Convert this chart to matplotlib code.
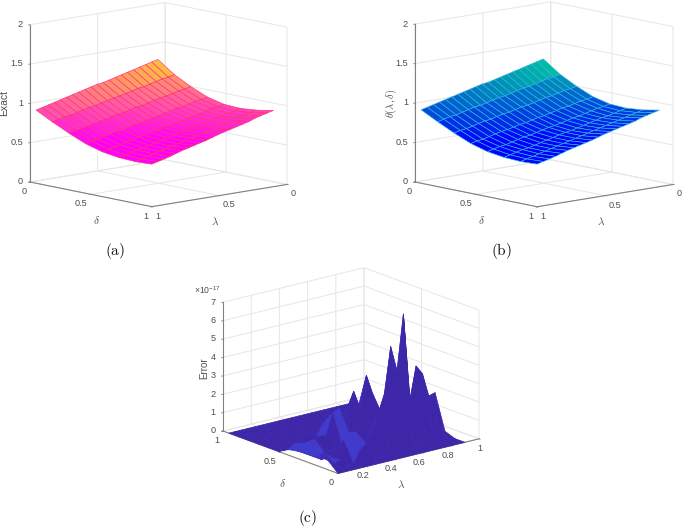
import numpy as np
import matplotlib
matplotlib.use('Agg')
import matplotlib.pyplot as plt
from matplotlib.colors import LinearSegmentedColormap
from mpl_toolkits.mplot3d import proj3d

plt.rcParams['font.family'] = ['Liberation Sans', 'DejaVu Sans']
plt.rcParams['mathtext.fontset'] = 'cm'
plt.rcParams['grid.color'] = '#e6e6e6'
plt.rcParams['grid.linewidth'] = 0.7

W, H = 685, 527

# ---- data for panels (a), (b): rows = delta, columns = lambda
lambda_ab = [0.100, 0.145, 0.190, 0.235, 0.280, 0.325, 0.370, 0.415, 0.460, 0.505, 0.550,
             0.595, 0.640, 0.685, 0.730, 0.775, 0.820, 0.865, 0.910, 0.955, 1.000]
delta_ab = [0.050, 0.186, 0.321, 0.457, 0.593, 0.729, 0.864, 1.000]
exact_values = [
    [1.32, 1.30, 1.28, 1.26, 1.24, 1.22, 1.20, 1.18, 1.16, 1.14, 1.13, 1.11, 1.09, 1.07, 1.05, 1.03, 1.01, .99, .97, .95, .93],
    [1.17, 1.15, 1.14, 1.12, 1.10, 1.08, 1.07, 1.05, 1.03, 1.01, 1.00, .98, .96, .94, .93, .91, .89, .87, .86, .84, .82],
    [1.06, 1.04, 1.03, 1.01, .99, .98, .96, .94, .92, .91, .89, .87, .86, .84, .82, .81, .79, .77, .75, .74, .72],
    [.97, .95, .94, .92, .90, .89, .87, .85, .83, .82, .80, .78, .77, .75, .73, .72, .70, .68, .66, .65, .63],
    [.92, .90, .89, .87, .85, .83, .82, .80, .78, .76, .75, .73, .71, .69, .68, .66, .64, .62, .61, .59, .57],
    [.91, .89, .87, .85, .84, .82, .80, .78, .76, .74, .73, .71, .69, .67, .65, .63, .61, .60, .58, .56, .54],
    [.93, .91, .89, .87, .85, .83, .81, .79, .77, .75, .73, .71, .69, .67, .65, .63, .61, .59, .57, .55, .53],
    [.97, .95, .93, .91, .88, .86, .84, .82, .80, .78, .755, .73, .71, .69, .67, .65, .625, .60, .58, .56, .54],
]
color_low, color_high = 0.70, 1.54

# ---- data for panel (c): nonzero error samples (x 1e-17)
lambda_c = [0.000, 0.045, 0.090, 0.135, 0.180, 0.225, 0.270, 0.315, 0.360, 0.405, 0.450,
            0.495, 0.540, 0.585, 0.630, 0.675, 0.720, 0.765, 0.810, 0.855, 0.900]
delta_c = [0.000, 0.086, 0.173, 0.259, 0.345, 0.432, 0.518, 0.605, 0.691, 0.777, 0.864, 0.950]
err_delta_idx = [3, 3, 3, 3, 3, 3, 3, 3, 3, 3, 3, 3,
                 8, 8, 8, 8, 8, 8, 8,
                 2, 2, 2, 2, 2, 2,
                 5, 5, 4, 4,
                 6, 6, 5, 6,
                 2, 2, 1, 1, 2,
                 3, 4, 2,
                 1, 2, 3, 4, 5,
                 5,
                 1, 1, 2]
err_lambda_idx = [9, 10, 11, 12, 13, 14, 15, 16, 17, 18, 19, 20,
                  13, 14, 15, 16, 17, 18, 19,
                  12, 13, 14, 18, 19, 20,
                  7, 8, 8, 6,
                  7, 8, 6, 6,
                  5, 6, 6, 5, 4,
                  1, 1, 1,
                  0, 0, 0, 0, 0,
                  1,
                  1, 2, 2]
err_values = [0.1, 0.6, 1.7, 2.7, 5.2, 3.8, 6.8, 2.0, 3.8, 3.3, 2.0, 2.1,
              0.1, 0.2, 1.6, 0.6, 2.3, 1.2, 0.35,
              1.05, 0.75, 0.45, 0.4, 0.6, 0.2,
              1.67, 1.86, 0.7, 0.1,
              0.9, 0.8, 0.56, 0.3,
              1.4, 1.3, 0.9, 0.6, 1.05,
              1.17, 0.75, 0.65,
              0.5, 0.55, 0.45, 0.4, 0.3,
              0.56,
              0.25, 0.35, 0.3]
lit_delta_idx = [4, 5, 1, 1, 2, 3, 4, 1]
lit_lambda_idx = [7, 6, 5, 4, 0, 0, 0, 1]
lit_level = 1.3
dark_delta_idx = [2, 2, 2, 2, 2, 2]
dark_lambda_idx = [12, 13, 14, 18, 19, 20]

# ---- colour scale of panel (c), low end of the parula map
err_cmap = LinearSegmentedColormap.from_list(
    'low_parula', [(0.0, '#3e26a8'), (0.1, '#4347e0'), (0.2, '#3e7cfc'), (0.35, '#22b5d8'), (1.0, '#fdf524')])
err_scale = 20.0


def style(ax, xt, yt, zt, xtl, ytl, ztl, xha, yha, fs=6.6):
    ax.set_xticks(xt)
    ax.set_xticklabels(xtl, ha=xha)
    ax.set_yticks(yt)
    ax.set_yticklabels(ytl, ha=yha)
    ax.set_zticks(zt)
    ax.set_zticklabels(ztl, ha='right', va='center')
    for a in (ax.xaxis, ax.yaxis, ax.zaxis):
        a.set_pane_color((1, 1, 1, 0))
        a.pane.set_edgecolor('#e6e6e6')
        a.line.set_color('#808080')
        a.line.set_linewidth(0.8)
        a._axinfo['tick'].update(inward_factor=0.12, outward_factor=0.0, linewidth={True: 0.6, False: 0.5})
        a.set_tick_params(labelsize=fs, colors='#4d4d4d', color='#808080', pad=-5)
    ax.patch.set_alpha(0)


def fit(ax, p_left, p_right, px_left, px_right):
    """Scale and shift the axes box so two corners land on the wanted pixels."""
    def pix(p):
        x, y, _ = proj3d.proj_transform(p[0], p[1], p[2], ax.get_proj())
        return ax.transData.transform((x, y))
    s = 0.5
    ax.set_position([0.1, 0.1, s * H / W, s])
    span = pix(p_right)[0] - pix(p_left)[0]
    s *= (px_right[0] - px_left[0]) / span
    ax.set_position([0.1, 0.1, s * H / W, s])
    here = pix(p_left)
    dx = (px_left[0] - here[0]) / W
    dy = ((H - px_left[1]) - here[1]) / H
    ax.set_position([0.1 + dx, 0.1 + dy, s * H / W, s])


def label(x, y, s, size, rot=0, color='#4d4d4d'):
    fig.text(x / W, 1 - y / H, s, fontsize=size, rotation=rot, ha='center', va='center', color=color)


fig = plt.figure(figsize=(W / 100, H / 100), dpi=100)
fig.patch.set_facecolor('white')

L_ab, D_ab = np.meshgrid(lambda_ab, delta_ab)
Z_ab = np.array(exact_values, dtype=float)
T_ab = np.clip((Z_ab - color_low) / (color_high - color_low), 0, 1)


def panel_ab(cmap, edge, left_px, right_px):
    ax = fig.add_subplot(projection='3d', proj_type='ortho')
    ax.view_init(elev=10.5, azim=48)
    ax.set_box_aspect((1, 1, 160 / 182))
    ax.set_xlim(0, 1, view_margin=0)
    ax.set_ylim(0, 1, view_margin=0)
    ax.set_zlim(0, 2, view_margin=0)
    ax.plot_surface(L_ab, D_ab, Z_ab, facecolors=plt.get_cmap(cmap)(T_ab), rstride=1, cstride=1,
                    shade=False, edgecolor=edge, linewidth=0.45, antialiased=True)
    style(ax, [0, 0.5, 1], [0, 0.5, 1], [0, 0.5, 1, 1.5, 2],
          ['0', '0.5', '1'], ['0', '0.5', '1'], ['0', '0.5', '1', '1.5', '2'], 'left', 'right')
    fit(ax, (1, 0, 0), (0, 1, 0), left_px, right_px)
    return ax


panel_ab('spring', '#ff3070', (30, 182), (287, 183))
label(97, 220, r'$\delta$', 8)
label(215, 221, r'$\lambda$', 8)
label(4, 103, 'Exact', 7.5, 90)
label(115, 251, r'$\mathrm{(a)}$', 11, color='#111111')

panel_ab('winter', '#2fb4e6', (415, 182), (673, 183))
label(482, 220, r'$\delta$', 8)
label(601, 221, r'$\lambda$', 8)
label(391, 103, r'$\theta(\lambda,\delta)$', 7.5, 90)
label(501, 251, r'$\mathrm{(b)}$', 11, color='#111111')

# panel (c)
L_c, D_c = np.meshgrid(lambda_c, delta_c)
Z_c = np.zeros_like(L_c)
C_c = np.zeros_like(L_c)
for k, i, v in zip(err_delta_idx, err_lambda_idx, err_values):
    Z_c[k, i] = v
    C_c[k, i] = v
for k, i in zip(lit_delta_idx, lit_lambda_idx):
    C_c[k, i] = lit_level
for k, i in zip(dark_delta_idx, dark_lambda_idx):
    C_c[k, i] = 0.0

ax = fig.add_subplot(projection='3d', proj_type='ortho')
ax.view_init(elev=17.5, azim=230.8)
ax.set_box_aspect((1, 1, 135 / 182))
ax.set_xlim(0, 1, view_margin=0)
ax.set_ylim(0, 1, view_margin=0)
ax.set_zlim(0, 7, view_margin=0)
face_c = err_cmap(C_c / err_scale)
ax.plot_surface(L_c, D_c, Z_c, facecolors=face_c, rstride=1, cstride=1,
                shade=False, edgecolor=face_c[:-1, :-1].reshape(-1, 4), linewidth=0.5, antialiased=True)
style(ax, [0.2, 0.4, 0.6, 0.8, 1], [0, 0.5, 1], list(range(8)),
      ['0.2', '0.4', '0.6', '0.8', '1'], ['0', '0.5', '1'], [str(v) for v in range(8)], 'right', 'right')
fit(ax, (0, 1, 0), (1, 0, 0), (223, 431), (479, 438))
label(283, 483, r'$\delta$', 8)
label(401, 484, r'$\lambda$', 8)
label(204, 368, 'Error', 7, 90)
label(207, 290, r'$\mathdefault{\times 10^{-17}}$', 6.2)
label(308, 518, r'$\mathrm{(c)}$', 11, color='#111111')

fig.savefig('out.png', dpi=100)
